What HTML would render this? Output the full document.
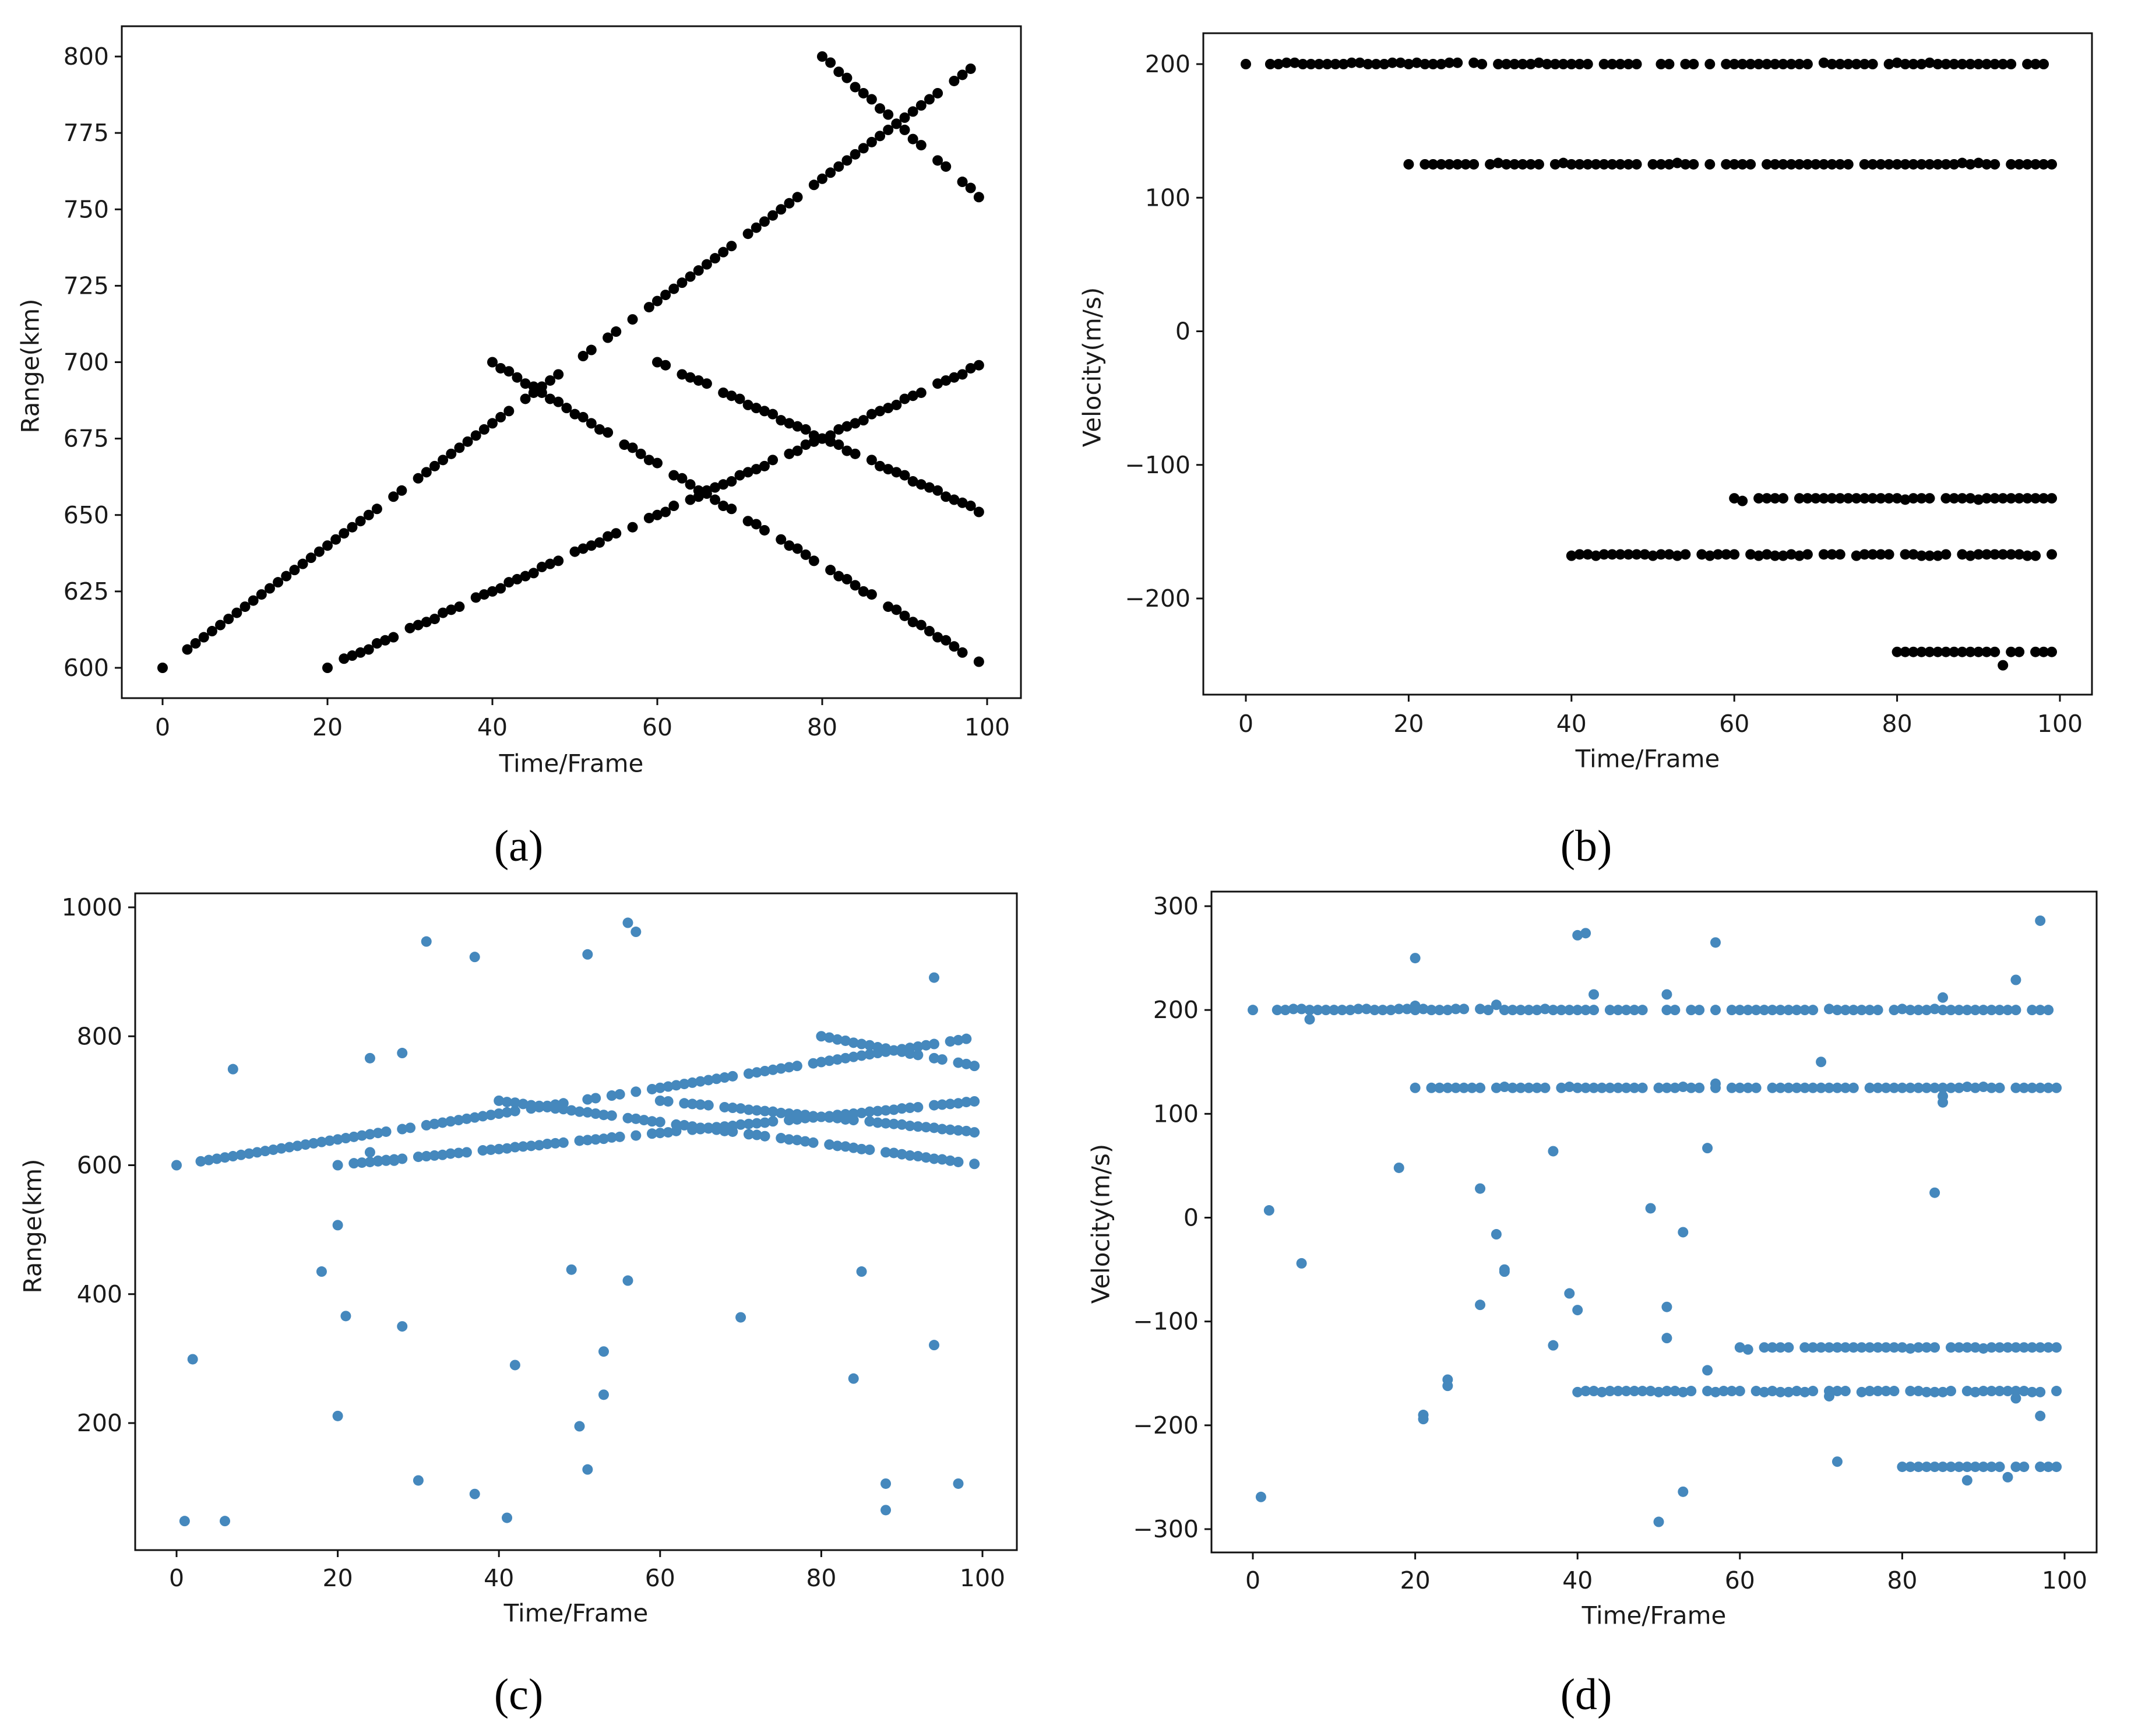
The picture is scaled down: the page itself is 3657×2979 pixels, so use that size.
<!DOCTYPE html>
<html><head><meta charset="utf-8"><style>
html,body{margin:0;padding:0;background:#fff;}
svg{display:block;}
text{font-family:"DejaVu Sans","Liberation Sans",sans-serif;fill:#1a1a1a;}
.cap{font-family:"Liberation Serif",serif;fill:#000;}
</style></head><body>
<svg id="fig" width="3657" height="2979" viewBox="0 0 3657 2979" xmlns="http://www.w3.org/2000/svg"></svg>
<script>
// ---- Data (frames / values) ----
const t1Frames=[0,3,4,5,6,7,8,9,10,11,12,13,14,15,16,17,18,19,20,21,22,23,24,25,26,28,29,31,32,33,34,35,36,37,38,39,40,41,42,44,45,46,47,48,51,52,54,55,57,59,60,61,62,63,64,65,66,67,68,69,71,72,73,74,75,76,77,79,80,81,82,83,84,85,86,87,88,89,90,91,92,93,94,96,97,98];
const t1Range=[600,606,608,610,612,614,616,618,620,622,624,626,628,630,632,634,636,638,640,642,644,646,648,650,652,656,658,662,664,666,668,670,672,674,676,678,680,682,684,688,690,692,694,696,702,704,708,710,714,718,720,722,724,726,728,730,732,734,736,738,742,744,746,748,750,752,754,758,760,762,764,766,768,770,772,774,776,778,780,782,784,786,788,792,794,796];
const t1Vel=[200,200,200,201,201,200,200,200,200,200, 200,201,201,200,200,200,201,201,200,201, 200,200,200,201,201,201,200,200,200,200, 200,200,201,200,200,200,200,200,200,200, 200,200,200,200,200,200,200,200,200,200, 200,200,200,200,200,200,200,200,200,200, 201,200,200,200,200,200,200,200,201,200, 200,200,201,200,200,200,200,200,200,200, 200,200,200,200,200,200];
const t2Frames=[20,22,23,24,25,26,27,28,30,31,32,33,34,35,36,38,39,40,41,42,43,44,45,46,47,48,50,51,52,53,54,55,57,59,60,61,62,64,65,66,67,68,69,70,71,72,73,74,76,77,78,79,80,81,82,83,84,85,86,87,88,89,90,91,92,94,95,96,97,98,99];
const t2Range=[600,603,604,605,606,608,609,610,613,614,615,616,618,619,620,623,624,625,626,628,629,630,631,633,634,635,638,639,640,641,643,644,646,649,650,651,653,655,656,658,659,660,661,663,664,665,666,668,670,671,673,674,675,676,678,679,680,681,683,684,685,686,688,689,690,693,694,695,696,698,699];
const t2Vel=[125,125,125,125,125,125,125,125,125,126, 125,125,125,125,125,125,126,125,125,125, 125,125,125,125,125,125,125,125,125,126, 125,125,125,125,125,125,125,125,125,125, 125,125,125,125,125,125,125,125,125,125, 125,125,125,125,125,125,125,125,125,125, 126,125,126,125,125,125,125,125,125,125, 125];
const t3Frames=[40,41,42,43,44,45,46,47,48,49,50,51,52,53,54,56,57,58,59,60,62,63,64,65,66,67,68,69,71,72,73,75,76,77,78,79,81,82,83,84,85,86,88,89,90,91,92,93,94,95,96,97,99];
const t3Range=[700,698,697,695,693,692,690,688,687,685,683,682,680,678,677,673,672,670,668,667,663,662,660,658,657,655,653,652,648,647,645,642,640,639,637,635,632,630,629,627,625,624,620,619,617,615,614,612,610,609,607,605,602];
const t3Vel=[-168,-167,-167,-168,-167,-167,-167,-167,-167,-167, -168,-167,-167,-168,-167,-167,-168,-167,-167,-167, -167,-168,-167,-168,-168,-167,-168,-167,-167,-167, -167,-168,-167,-167,-167,-167,-167,-167,-168,-168, -168,-167,-167,-168,-167,-167,-167,-167,-167,-167, -168,-168,-167];
const t4Frames=[60,61,63,64,65,66,68,69,70,71,72,73,74,75,76,77,78,79,80,81,82,83,84,86,87,88,89,90,91,92,93,94,95,96,97,98,99];
const t4Range=[700,699,696,695,694,693,690,689,688,686,685,684,683,681,680,679,678,676,675,674,673,671,670,668,666,665,664,663,661,660,659,658,656,655,654,653,651];
const t4Vel=[-125,-127,-125,-125,-125,-125,-125,-125,-125,-125, -125,-125,-125,-125,-125,-125,-125,-125,-125,-126, -125,-125,-125,-125,-125,-125,-125,-126,-125,-125, -125,-125,-125,-125,-125,-125,-125];
const t5Frames=[80,81,82,83,84,85,86,87,88,89,90,91,92,94,95,97,98,99];
const t5Range=[800,798,795,793,790,788,786,783,781,778,776,773,771,766,764,759,757,754];
const t5VelFrames=[80,81,82,83,84,85,86,87,88,89,90,91,92,93,94,95,97,98,99];
const t5Vel=[-240,-240,-240,-240,-240,-240,-240,-240,-240,-240,-240,-240,-240,-250,-240,-240,-240,-240,-240];
const cClutterFrames=[1,2,6,7,18,20,20,21,24,28,28,30,31,37,37,41,42,49,50,51,51,53,53,56,57,56,70,84,85,88,88,94,94,97,24,25,26,27];
const cClutterRange=[48,299,48,749,435,507,211,366,766,774,350,111,947,923,90,53,290,438,195,927,128,311,244,976,962,421,364,269,435,106,65,891,321,106,620,607,607,607];
const dClutterFrames=[1,2,6,7,18,20,20,21,21,24,24,28,28,30,30,31,31,37,37,39,40,40,41,42,49,50,51,51,51,53,53,56,56,57,57,70,71,72,84,85,85,85,88,94,94,97,97,97];
const dClutterVel=[-269,7,-44,191,48,250,204,-190,-194,-156,-162,28,-84,205,-16,-50,-52,64,-123,-73,-89,272,274,215,9,-293,215,-86,-116,-14,-264,67,-147,265,129,150,-172,-235,24,212,117,111,-253,-174,229,286,-191,-240];
const xTicks=[0,20,40,60,80,100];
const aYTicks=[600,625,650,675,700,725,750,775,800];
const bYTicks=[-200,-100,0,100,200];
const cYTicks=[200,400,600,800,1000];
const dYTicks=[-300,-200,-100,0,100,200,300];

const NS="http://www.w3.org/2000/svg";
const svg=document.getElementById('fig');
function mk(tag,attrs,parent){const e=document.createElementNS(NS,tag);for(const k in attrs)e.setAttribute(k,attrs[k]);(parent||svg).appendChild(e);return e;}

function panel(p){
  const g=mk('g',{});
  
  
  const X=v=>p.x0+(v-p.xv0)*(p.x1-p.x0)/(p.xv1-p.xv0);
  const Y=v=>p.y0+(v-p.yv0)*(p.y1-p.y0)/(p.yv1-p.yv0);
  const pg=mk('g',{},g);
  
  
  p.series.forEach(s=>{
    for(let i=0;i<s.f.length;i++){
      if(s.v[i]===undefined)continue;
      const c=mk('circle',{cx:X(s.f[i]),cy:Y(s.v[i]),r:9,fill:p.color},pg);
      
      
    }
  });
  const fr=mk('rect',{x:p.L,y:p.T,width:p.R-p.L,height:p.B-p.T,fill:'none',stroke:'#111','stroke-width':3},g);
  
  
  xTicks.forEach(t=>{
    const x=X(t);
    mk('line',{x1:x,x2:x,y1:p.B,y2:p.B+12,stroke:'#111','stroke-width':3},g);
    const tx=mk('text',{x:x,y:p.xtY,'font-size':41,'text-anchor':'middle','dominant-baseline':'central'},g);
    tx.textContent=t;
    
    
  });
  p.yTicks.forEach(t=>{
    const y=Y(t);
    mk('line',{x1:p.L-12,x2:p.L,y1:y,y2:y,stroke:'#111','stroke-width':3},g);
    const tx=mk('text',{x:p.L-22,y:y,'font-size':41,'text-anchor':'end','dominant-baseline':'central'},g);
    tx.textContent=t<0?'\u2212'+(-t):t;
    
    
  });
  const xl=mk('text',{x:(p.L+p.R)/2,y:p.xlY,'font-size':42,'text-anchor':'middle','dominant-baseline':'central'},g);
  xl.textContent='Time/Frame';
  
  
  const yl=mk('text',{x:p.ylX,y:p.ylY,'font-size':42,'text-anchor':'middle','dominant-baseline':'central',transform:`rotate(-90 ${p.ylX} ${p.ylY})`},g);
  yl.textContent=p.ylabel;
  
  
  const cp=mk('text',{x:p.capX,y:p.capY,'font-size':76,'text-anchor':'middle','dominant-baseline':'central',class:'cap'},g);
  cp.textContent=p.cap;
  
  
}
const BLACK='#000', BLUE='#4588bd';
const rangeSeries=[{f:t1Frames,v:t1Range},{f:t2Frames,v:t2Range},{f:t3Frames,v:t3Range},{f:t4Frames,v:t4Range},{f:t5Frames,v:t5Range}];
const velSeries=[{f:t1Frames,v:t1Vel},{f:t2Frames,v:t2Vel},{f:t3Frames,v:t3Vel},{f:t4Frames,v:t4Vel},{f:t5VelFrames,v:t5Vel}];
panel({name:'panel-a-range',color:BLACK,L:209,R:1752,T:45,B:1198,x0:279,x1:1694,xv0:0,xv1:100,y0:1146,y1:97,yv0:600,yv1:800,
  yTicks:aYTicks,xtY:1248,xlY:1310,ylX:52,ylY:628,ylabel:'Range(km)',cap:'(a)',capX:890,capY:1452,series:rangeSeries});
panel({name:'panel-b-velocity',color:BLACK,L:2065,R:3590,T:57,B:1192,x0:2138,x1:3535,xv0:0,xv1:100,y0:110,y1:1027,yv0:200,yv1:-200,
  yTicks:bYTicks,xtY:1242,xlY:1302,ylX:1874,ylY:630,ylabel:'Velocity(m/s)',cap:'(b)',capX:2722,capY:1452,series:velSeries});
panel({name:'panel-c-range-clutter',color:BLUE,L:232,R:1745,T:1533,B:2660,x0:303,x1:1686,xv0:0,xv1:100,y0:1557,y1:2442,yv0:1000,yv1:200,
  yTicks:cYTicks,xtY:2708,xlY:2768,ylX:56,ylY:2104,ylabel:'Range(km)',cap:'(c)',capX:890,capY:2908,
  series:rangeSeries.concat([{f:cClutterFrames,v:cClutterRange}])});
panel({name:'panel-d-velocity-clutter',color:BLUE,L:2079,R:3598,T:1530,B:2664,x0:2150,x1:3543,xv0:0,xv1:100,y0:1555,y1:2624,yv0:300,yv1:-300,
  yTicks:dYTicks,xtY:2712,xlY:2772,ylX:1889,ylY:2100,ylabel:'Velocity(m/s)',cap:'(d)',capX:2722,capY:2908,
  series:velSeries.concat([{f:dClutterFrames,v:dClutterVel}])});
</script>
</body></html>
